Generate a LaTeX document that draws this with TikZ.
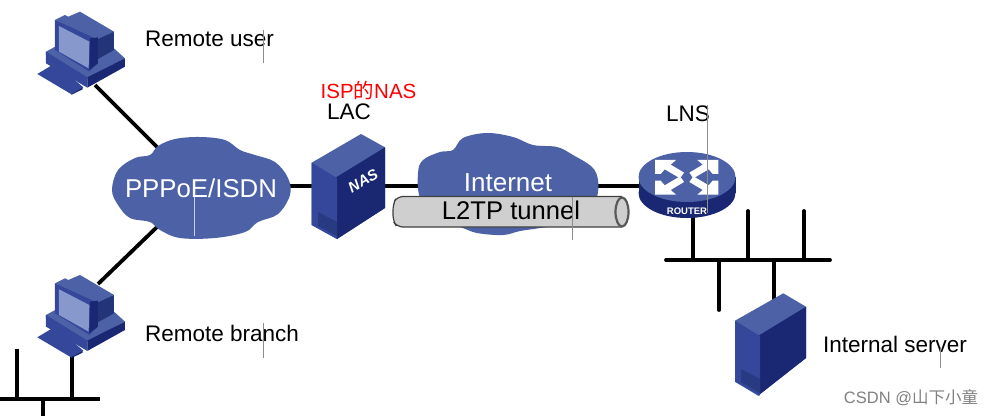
\documentclass[tikz,border=0pt]{standalone}
\usepackage{fontspec}
\setmainfont{Liberation Sans}
\newfontfamily\cjkfont{Noto Sans CJK SC}
\definecolor{cloudblue}{HTML}{4D62A6}
\definecolor{darkblue}{HTML}{1A2873}
\definecolor{midblue}{HTML}{34479A}
\definecolor{screenblue}{HTML}{8799CC}
\definecolor{sideblue}{HTML}{233578}
\definecolor{tubegrey}{HTML}{CFCFCF}
\newcommand{\fsz}[1]{\fontsize{#1}{#1}\selectfont}
\tikzset{
  x=1pt,y=-1pt,
  wire/.style={line width=3.8pt,black},
  thinmark/.style={line width=0.7pt,black!45},
  label/.style={inner sep=0pt,outer sep=0pt,black},
  computer/.pic={
    \begin{scope}[x=0.3333pt,y=-0.3333pt]
      \fill[midblue] (112,222)--(165,190)--(250,262)--(213,282)--cycle;
      \fill[darkblue] (213,282)--(248,262)--(248,268)--(215,284)--cycle;
      \fill[cloudblue] (138,155)--(175,135)--(342,145)--(375,175)--(262,235)--(138,165)--cycle;
      \fill[midblue] (138,155)--(262,232)--(262,263)--(138,190)--cycle;
      \fill[darkblue] (262,232)--(375,175)--(375,200)--(262,263)--cycle;
      \fill[cloudblue] (165,60)--(195,45)--(205,50)--(240,35)--(342,95)--(292,120)--(270,115)--cycle;
      \fill[midblue] (165,60)--(292,118)--(292,190)--(268,215)--(165,150)--cycle;
      \fill[sideblue] (292,118)--(342,95)--(342,150)--(292,178)--cycle;
      \fill[darkblue] (270,115)--(294,112)--(294,190)--(268,210)--cycle;
      \fill[screenblue] (177,78)--(268,125)--(266,205)--(177,155)--cycle;
    \end{scope}
  }
}
\begin{document}
\begin{tikzpicture}
\useasboundingbox (0,0) rectangle (995,416);
% named connection points
\coordinate (pc1) at (95,85);
\coordinate (cloudA1) at (160,150);
\coordinate (pc2) at (98,284);
\coordinate (cloudA2) at (157,227);
\coordinate (cloudAr) at (285,186);
\coordinate (nasl) at (315,186);
\coordinate (nasr) at (382,186);
\coordinate (cloudBl) at (425,186);
\coordinate (cloudBr) at (590,186);
\coordinate (routerl) at (645,186);
\coordinate (routerb) at (693,215);
\coordinate (busa) at (666,260);
\coordinate (busb) at (830,260);
\coordinate (busr) at (693,260);
\coordinate (s1t) at (748,211);
\coordinate (s1b) at (748,260);
\coordinate (s2t) at (804,211);
\coordinate (s2b) at (804,260);
\coordinate (s3t) at (719,260);
\coordinate (s3b) at (719,310);
\coordinate (s4t) at (774,260);
\coordinate (s4b) at (774,302);
\coordinate (lbusa) at (0,399);
\coordinate (lbusb) at (100,399);
\coordinate (l1t) at (17,349);
\coordinate (l1b) at (17,399);
\coordinate (l2t) at (72,350);
\coordinate (l2b) at (72,399);
\coordinate (l3t) at (43,399);
\coordinate (l3b) at (43,416);
% wires
\draw[wire] (pc1)--(cloudA1);
\draw[wire] (pc2)--(cloudA2);
\draw[wire] (cloudAr)--(nasl);
\draw[wire] (nasr)--(cloudBl);
\draw[wire] (cloudBr)--(routerl);
\draw[wire] (routerb)--(busr);
\draw[wire,line cap=round] (busa)--(busb);
\draw[wire,line cap=round] (s1t)--(s1b);
\draw[wire,line cap=round] (s2t)--(s2b);
\draw[wire,line cap=round] (s3t)--(s3b);
\draw[wire] (s4t)--(s4b);
\draw[wire] (lbusa)--(lbusb);
\draw[wire] (l1t)--(l1b);
\draw[wire] (l2t)--(l2b);
\draw[wire] (l3t)--(l3b);
% computers
\pic at (0,0) {computer};
\pic at (0,263.3) {computer};
% clouds
\fill[cloudblue] plot[smooth cycle,tension=0.6] coordinates {(112,190) (118,170) (135,158) (150,155) (158,146) (175,139) (200,137) (225,140) (240,150) (255,155) (275,162) (288,178) (290,195) (278,214) (258,222) (245,232) (215,238) (180,238) (160,230) (150,222) (130,218) (118,205)};
\fill[cloudblue] plot[smooth cycle,tension=0.6] coordinates {(418,173) (423,160) (440,152) (453,150) (463,138) (487,133) (513,137) (533,145) (557,147) (573,155) (592,167) (598,180) (597,197) (590,208) (560,224) (540,228) (520,231) (503,235) (477,233) (460,227) (435,220) (420,198)};
% NAS server
\fill[cloudblue] (361,134)--(385,147.3)--(385,208)--(337,239)--(311.7,225)--(311.7,162.7)--cycle;
\fill[darkblue] (335,178)--(385,147.3)--(385,208)--(337,239)--cycle;
\fill[midblue] (311.7,162.7)--(337,178)--(337,239)--(311.7,225)--cycle;
\fill[sideblue!70!midblue] (318,212)--(337,222)--(337,236)--(318,226)--cycle;
\node[label,white,rotate=30,font=\bfseries\itshape\fsz{15}] (nastext) at (363,181) {NAS};
% internal server
\fill[cloudblue] (783.3,293.3)--(806,306.7)--(806,358)--(758,395.7)--(735,381.7)--(735,320.7)--cycle;
\fill[darkblue] (758,336)--(806,306.7)--(806,358)--(758,395.7)--cycle;
\fill[midblue] (735,320.7)--(760,336)--(760,395.7)--(735,381.7)--cycle;
\fill[sideblue!70!midblue] (741,369)--(760,379)--(760,393)--(741,382)--cycle;
% tunnel
\draw[line width=1.2pt,black!75,fill=tubegrey,rounded corners=6pt] (622,196.5)--(397,196.5)--(393,204)--(393,221)--(397,227)--(622,227);
\draw[line width=2.2pt,black!65,fill=tubegrey] (622,212) ellipse [x radius=6.5,y radius=14.5];
% router
\fill[darkblue] (687,193) ellipse [x radius=48.5,y radius=25];
\fill[darkblue] (638.5,177) rectangle (735.5,193);
\fill[cloudblue] (687,177) ellipse [x radius=48.5,y radius=25];
\foreach \sx/\sy in {1/1,-1/1,1/-1,-1/-1}{
  \fill[white,shift={(686.7,177.3)},xscale=\sx*0.3333,yscale=\sy*0.3333]
    (-95,-52)--(-32,-52)--(-48,-38)--(-8,-14)--(-20,3)--(-66,-24)--(-78,-10)--(-95,-10)--cycle;
}
\node[label,white,font=\bfseries\fsz{9.5}] (routertext) at (687,211) {ROUTER};
% labels
\node[label,font=\fsz{22.5}] (ruser) at (209.5,39) {Remote user};
\node[label,font=\fsz{22.5}] (rbranch) at (222,333) {Remote branch};
\node[label,font=\fsz{22.5}] (lac) at (349,112) {LAC};
\node[label,font=\fsz{22.5}] (lns) at (688,114) {LNS};
\node[label,font=\fsz{22.5}] (iserver) at (895,344) {Internal server};
\node[label,white,font=\fsz{25.8}] (pppoe) at (201,188) {PPPoE/ISDN};
\node[label,white,font=\fsz{26}] (inet) at (508,183) {Internet};
\node[label,font=\fsz{25.6}] (l2tp) at (511,210) {L2TP tunnel};
\node[label,red,font=\fsz{20.5}] (isp) at (368.5,90) {ISP{\cjkfont 的}NAS};
\node[label,black!50,font=\fsz{16.5}] (csdn) at (911,398) {CSDN @{\cjkfont 山下小童}};
% thin marks
\draw[thinmark] (263,30)--(263,63);
\draw[thinmark] (263,323)--(263,358);
\draw[thinmark,white!70!cloudblue] (194,197)--(194,236);
\draw[thinmark] (572,197)--(572,240);
\draw[thinmark] (707,105)--(707,213);
\draw[thinmark] (940.7,347)--(940.7,368);
\end{tikzpicture}
\end{document}
